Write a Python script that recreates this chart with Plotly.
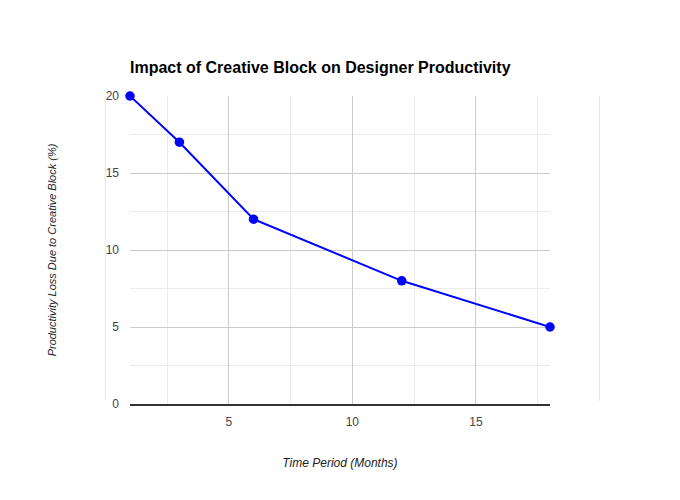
import plotly.graph_objects as go

months = [1, 3, 6, 12, 18]
loss = [20, 17, 12, 8, 5]

title_text = "Impact of Creative Block on Designer Productivity"
x_title = "Time Period (Months)"
y_title = "Productivity Loss Due to Creative Block (%)"

x_range = [1, 18]
y_range = [0, 20]
font_family = "Liberation Sans, Arial, sans-serif"

fig = go.Figure()
fig.add_trace(go.Scatter(
    x=months, y=loss, mode="lines+markers",
    line=dict(color="#0000ff", width=2),
    marker=dict(color="#0000ff", size=9.5),
    cliponaxis=False,
    showlegend=False, hoverinfo="x+y",
))

# Google-charts style stray gridlines outside the view window (x=0 and x=20)
span = x_range[1] - x_range[0]
for gx in [0, 20]:
    fig.add_shape(type="line", xref="paper", yref="paper",
                  x0=(gx - x_range[0]) / span, x1=(gx - x_range[0]) / span,
                  y0=0.01, y1=1, line=dict(color="#e6e6e6", width=1), layer="below")

fig.update_layout(
    width=680, height=500,
    margin=dict(l=130, r=130, t=96, b=96),
    paper_bgcolor="white", plot_bgcolor="white",
    font=dict(family=font_family, size=12, color="#444444"),
    title=dict(text="<b>" + title_text + "</b>", x=130 / 680, xanchor="left",
               y=1 - 67 / 500, yanchor="middle",
               font=dict(size=16, color="#000000", family=font_family)),
    xaxis=dict(
        range=x_range, tick0=0, dtick=5, showgrid=True, gridcolor="#cccccc",
        gridwidth=1, zeroline=False, showline=True, linecolor="#333333", linewidth=1.5,
        ticks="", ticklabelstandoff=6,
        minor=dict(tick0=0, dtick=2.5, showgrid=True, gridcolor="#ebebeb", gridwidth=1),
        title=dict(text="<i>" + x_title + "</i>", standoff=30,
                   font=dict(size=12, color="#222222")),
        tickfont=dict(size=12, color="#444444"),
    ),
    yaxis=dict(
        range=y_range, tick0=0, dtick=5, showgrid=True, gridcolor="#cccccc",
        gridwidth=1, zeroline=False, showline=False, ticks="", ticklabelstandoff=10,
        minor=dict(tick0=0, dtick=2.5, showgrid=True, gridcolor="#ebebeb", gridwidth=1),
        title=dict(text="<i>" + y_title + "</i>", standoff=46,
                   font=dict(size=11, color="#222222")),
        tickfont=dict(size=12, color="#444444"),
    ),
)

fig.write_html("out.html", config={"displayModeBar": False},
               post_script="document.body.style.margin='0';document.body.style.padding='0';")
